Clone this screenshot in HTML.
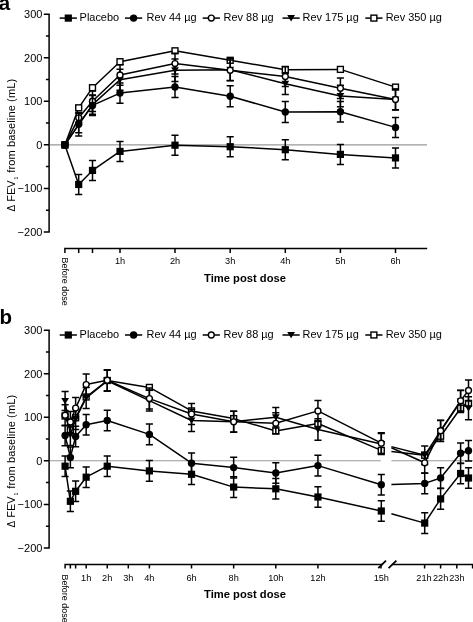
<!DOCTYPE html>
<html><head><meta charset="utf-8"><title>Figure</title>
<style>html,body{margin:0;padding:0;background:#fff}svg{display:block}text{font-family:"Liberation Sans", sans-serif;fill:#000}</style>
</head><body>
<svg width="473" height="622" viewBox="0 0 473 622">
<rect width="473" height="622" fill="#fff"/>
<text x="-1.3" y="10.1" font-size="20.5" font-weight="bold">a</text>
<path d="M49.1 13.45V232.70M49.1 231.95h-5.3M49.1 210.17h-3.2M49.1 188.40h-5.3M49.1 166.62h-3.2M49.1 144.85h-5.3M49.1 123.08h-3.2M49.1 101.30h-5.3M49.1 79.53h-3.2M49.1 57.75h-5.3M49.1 35.97h-3.2M49.1 14.20h-5.3" fill="none" stroke="#000" stroke-width="1.5"/>
<text x="42.4" y="235.85" font-size="11" text-anchor="end">−200</text>
<text x="42.4" y="192.30" font-size="11" text-anchor="end">−100</text>
<text x="42.4" y="148.75" font-size="11" text-anchor="end">0</text>
<text x="42.4" y="105.20" font-size="11" text-anchor="end">100</text>
<text x="42.4" y="61.65" font-size="11" text-anchor="end">200</text>
<text x="42.4" y="18.10" font-size="11" text-anchor="end">300</text>
<g transform="translate(15.2 0) rotate(-90)"><text x="-211.6" y="0" font-size="10">Δ</text><text x="-201.7" y="0" font-size="11">FEV</text><text x="-179.4" y="2.4" font-size="5.2">1</text><text x="-172.8" y="0" font-size="11" textLength="93.9" lengthAdjust="spacing">from baseline (mL)</text></g>
<path d="M59.70 18.10h17.2" stroke="#000" stroke-width="1.5"/>
<rect x="64.70" y="14.50" width="7.2" height="7.2" fill="#000"/>
<text x="79.60" y="20.80" font-size="10.95">Placebo</text>
<path d="M125.00 18.10h17.2" stroke="#000" stroke-width="1.5"/>
<circle cx="133.60" cy="18.10" r="3.7" fill="#000"/>
<text x="146.50" y="20.80" font-size="10.95">Rev 44 µg</text>
<path d="M202.70 18.10h17.2" stroke="#000" stroke-width="1.5"/>
<circle cx="211.30" cy="18.10" r="2.95" fill="#fff" stroke="#000" stroke-width="1.4"/>
<text x="223.60" y="20.80" font-size="10.95">Rev 88 µg</text>
<path d="M282.50 18.10h17.2" stroke="#000" stroke-width="1.5"/>
<path d="M287.20 15.10H295.00L291.10 21.40Z" fill="#000"/>
<text x="302.60" y="20.80" font-size="10.95">Rev 175 µg</text>
<path d="M365.30 18.10h17.2" stroke="#000" stroke-width="1.5"/>
<rect x="370.95" y="15.15" width="5.9" height="5.9" fill="#fff" stroke="#000" stroke-width="1.4"/>
<text x="385.70" y="20.80" font-size="10.95">Rev 350 µg</text>
<path d="M49.8 144.85H427" stroke="#999" stroke-width="1.2"/>
<polyline points="64.90,144.90 78.70,107.80 92.50,87.70 120.00,61.70 175.00,50.80 230.20,60.30 285.30,69.70 340.40,69.40 395.50,87.10" fill="none" stroke="#000" stroke-width="1.5" stroke-linejoin="round"/>
<rect x="61.95" y="141.95" width="5.9" height="5.9" fill="#fff" stroke="#000" stroke-width="1.4"/>
<rect x="75.75" y="104.85" width="5.9" height="5.9" fill="#fff" stroke="#000" stroke-width="1.4"/>
<rect x="89.55" y="84.75" width="5.9" height="5.9" fill="#fff" stroke="#000" stroke-width="1.4"/>
<rect x="117.05" y="58.75" width="5.9" height="5.9" fill="#fff" stroke="#000" stroke-width="1.4"/>
<rect x="172.05" y="47.85" width="5.9" height="5.9" fill="#fff" stroke="#000" stroke-width="1.4"/>
<rect x="227.25" y="57.35" width="5.9" height="5.9" fill="#fff" stroke="#000" stroke-width="1.4"/>
<rect x="282.35" y="66.75" width="5.9" height="5.9" fill="#fff" stroke="#000" stroke-width="1.4"/>
<rect x="337.45" y="66.45" width="5.9" height="5.9" fill="#fff" stroke="#000" stroke-width="1.4"/>
<rect x="392.55" y="84.15" width="5.9" height="5.9" fill="#fff" stroke="#000" stroke-width="1.4"/>
<path d="M78.70 116.70V132.70M75.15 116.70h7.1M75.15 132.70h7.1M92.50 95.00V114.20M88.95 95.00h7.1M88.95 114.20h7.1M120.00 69.20V90.20M116.45 69.20h7.1M116.45 90.20h7.1M175.00 58.90V81.50M171.45 58.90h7.1M171.45 81.50h7.1M230.20 58.70V80.70M226.65 58.70h7.1M226.65 80.70h7.1M285.30 73.20V94.40M281.75 73.20h7.1M281.75 94.40h7.1M340.40 85.20V106.80M336.85 85.20h7.1M336.85 106.80h7.1M395.50 88.90V110.10M391.95 88.90h7.1M391.95 110.10h7.1" fill="none" stroke="#000" stroke-width="1.5"/>
<polyline points="64.90,144.90 78.70,124.70 92.50,104.60 120.00,79.70 175.00,70.20 230.20,69.70 285.30,83.80 340.40,96.00 395.50,99.50" fill="none" stroke="#000" stroke-width="1.5" stroke-linejoin="round"/>
<path d="M61.00 141.90H68.80L64.90 148.20Z" fill="#000"/>
<path d="M74.80 121.70H82.60L78.70 128.00Z" fill="#000"/>
<path d="M88.60 101.60H96.40L92.50 107.90Z" fill="#000"/>
<path d="M116.10 76.70H123.90L120.00 83.00Z" fill="#000"/>
<path d="M171.10 67.20H178.90L175.00 73.50Z" fill="#000"/>
<path d="M226.30 66.70H234.10L230.20 73.00Z" fill="#000"/>
<path d="M281.40 80.80H289.20L285.30 87.10Z" fill="#000"/>
<path d="M336.50 93.00H344.30L340.40 99.30Z" fill="#000"/>
<path d="M391.60 96.50H399.40L395.50 102.80Z" fill="#000"/>
<path d="M78.70 113.20V122.40M75.15 113.20h7.1M75.15 122.40h7.1M92.50 91.00V111.40M88.95 91.00h7.1M88.95 111.40h7.1M120.00 64.70V85.30M116.45 64.70h7.1M116.45 85.30h7.1M175.00 53.30V73.90M171.45 53.30h7.1M171.45 73.90h7.1M230.20 60.00V80.60M226.65 60.00h7.1M226.65 80.60h7.1M285.30 66.40V86.40M281.75 66.40h7.1M281.75 86.40h7.1M340.40 78.00V98.60M336.85 78.00h7.1M336.85 98.60h7.1M395.50 89.20V109.80M391.95 89.20h7.1M391.95 109.80h7.1" fill="none" stroke="#000" stroke-width="1.5"/>
<polyline points="64.90,144.90 78.70,117.80 92.50,101.20 120.00,75.00 175.00,63.60 230.20,70.30 285.30,76.40 340.40,88.30 395.50,99.50" fill="none" stroke="#000" stroke-width="1.5" stroke-linejoin="round"/>
<circle cx="64.90" cy="144.90" r="2.95" fill="#fff" stroke="#000" stroke-width="1.4"/>
<circle cx="78.70" cy="117.80" r="2.95" fill="#fff" stroke="#000" stroke-width="1.4"/>
<circle cx="92.50" cy="101.20" r="2.95" fill="#fff" stroke="#000" stroke-width="1.4"/>
<circle cx="120.00" cy="75.00" r="2.95" fill="#fff" stroke="#000" stroke-width="1.4"/>
<circle cx="175.00" cy="63.60" r="2.95" fill="#fff" stroke="#000" stroke-width="1.4"/>
<circle cx="230.20" cy="70.30" r="2.95" fill="#fff" stroke="#000" stroke-width="1.4"/>
<circle cx="285.30" cy="76.40" r="2.95" fill="#fff" stroke="#000" stroke-width="1.4"/>
<circle cx="340.40" cy="88.30" r="2.95" fill="#fff" stroke="#000" stroke-width="1.4"/>
<circle cx="395.50" cy="99.50" r="2.95" fill="#fff" stroke="#000" stroke-width="1.4"/>
<path d="M78.70 112.60V136.00M75.15 112.60h7.1M75.15 136.00h7.1M92.50 95.40V115.40M88.95 95.40h7.1M88.95 115.40h7.1M120.00 83.00V103.20M116.45 83.00h7.1M116.45 103.20h7.1M175.00 76.50V97.50M171.45 76.50h7.1M171.45 97.50h7.1M230.20 85.70V106.70M226.65 85.70h7.1M226.65 106.70h7.1M285.30 101.60V122.40M281.75 101.60h7.1M281.75 122.40h7.1M340.40 101.40V122.00M336.85 101.40h7.1M336.85 122.00h7.1M395.50 117.40V137.40M391.95 117.40h7.1M391.95 137.40h7.1" fill="none" stroke="#000" stroke-width="1.5"/>
<polyline points="64.90,144.90 78.70,124.30 92.50,105.40 120.00,93.10 175.00,87.00 230.20,96.20 285.30,112.00 340.40,111.70 395.50,127.40" fill="none" stroke="#000" stroke-width="1.5" stroke-linejoin="round"/>
<circle cx="64.90" cy="144.90" r="3.7" fill="#000"/>
<circle cx="78.70" cy="124.30" r="3.7" fill="#000"/>
<circle cx="92.50" cy="105.40" r="3.7" fill="#000"/>
<circle cx="120.00" cy="93.10" r="3.7" fill="#000"/>
<circle cx="175.00" cy="87.00" r="3.7" fill="#000"/>
<circle cx="230.20" cy="96.20" r="3.7" fill="#000"/>
<circle cx="285.30" cy="112.00" r="3.7" fill="#000"/>
<circle cx="340.40" cy="111.70" r="3.7" fill="#000"/>
<circle cx="395.50" cy="127.40" r="3.7" fill="#000"/>
<path d="M78.70 174.50V194.50M75.15 174.50h7.1M75.15 194.50h7.1M92.50 160.40V180.40M88.95 160.40h7.1M88.95 180.40h7.1M120.00 141.40V161.40M116.45 141.40h7.1M116.45 161.40h7.1M175.00 135.20V155.20M171.45 135.20h7.1M171.45 155.20h7.1M230.20 136.70V156.70M226.65 136.70h7.1M226.65 156.70h7.1M285.30 139.70V159.70M281.75 139.70h7.1M281.75 159.70h7.1M340.40 144.40V164.40M336.85 144.40h7.1M336.85 164.40h7.1M395.50 147.90V167.90M391.95 147.90h7.1M391.95 167.90h7.1" fill="none" stroke="#000" stroke-width="1.5"/>
<polyline points="64.90,144.90 78.70,184.50 92.50,170.40 120.00,151.40 175.00,145.20 230.20,146.70 285.30,149.70 340.40,154.40 395.50,157.90" fill="none" stroke="#000" stroke-width="1.5" stroke-linejoin="round"/>
<rect x="61.30" y="141.30" width="7.2" height="7.2" fill="#000"/>
<rect x="75.10" y="180.90" width="7.2" height="7.2" fill="#000"/>
<rect x="88.90" y="166.80" width="7.2" height="7.2" fill="#000"/>
<rect x="116.40" y="147.80" width="7.2" height="7.2" fill="#000"/>
<rect x="171.40" y="141.60" width="7.2" height="7.2" fill="#000"/>
<rect x="226.60" y="143.10" width="7.2" height="7.2" fill="#000"/>
<rect x="281.70" y="146.10" width="7.2" height="7.2" fill="#000"/>
<rect x="336.80" y="150.80" width="7.2" height="7.2" fill="#000"/>
<rect x="391.90" y="154.30" width="7.2" height="7.2" fill="#000"/>
<path d="M64.15 248.55H427.2M64.90 248.55v4.4M78.70 248.55v4.4M92.50 248.55v4.4M120.00 248.55v4.4M175.00 248.55v4.4M230.20 248.55v4.4M285.30 248.55v4.4M340.40 248.55v4.4M395.50 248.55v4.4" fill="none" stroke="#000" stroke-width="1.5"/>
<text x="120.00" y="264.0" font-size="9.2" text-anchor="middle">1h</text>
<text x="175.00" y="264.0" font-size="9.2" text-anchor="middle">2h</text>
<text x="230.20" y="264.0" font-size="9.2" text-anchor="middle">3h</text>
<text x="285.30" y="264.0" font-size="9.2" text-anchor="middle">4h</text>
<text x="340.40" y="264.0" font-size="9.2" text-anchor="middle">5h</text>
<text x="395.50" y="264.0" font-size="9.2" text-anchor="middle">6h</text>
<text transform="translate(62.4 257.4) rotate(90)" font-size="9.4" textLength="48.4" lengthAdjust="spacingAndGlyphs">Before dose</text>
<text x="245.0" y="282.2" font-size="11.2" font-weight="bold" text-anchor="middle">Time post dose</text>
<text x="-0.5" y="323.8" font-size="20.5" font-weight="bold">b</text>
<path d="M49.1 329.45V548.70M49.1 547.95h-5.3M49.1 526.17h-3.2M49.1 504.40h-5.3M49.1 482.62h-3.2M49.1 460.85h-5.3M49.1 439.07h-3.2M49.1 417.30h-5.3M49.1 395.52h-3.2M49.1 373.75h-5.3M49.1 351.97h-3.2M49.1 330.20h-5.3" fill="none" stroke="#000" stroke-width="1.5"/>
<text x="42.4" y="551.85" font-size="11" text-anchor="end">−200</text>
<text x="42.4" y="508.30" font-size="11" text-anchor="end">−100</text>
<text x="42.4" y="464.75" font-size="11" text-anchor="end">0</text>
<text x="42.4" y="421.20" font-size="11" text-anchor="end">100</text>
<text x="42.4" y="377.65" font-size="11" text-anchor="end">200</text>
<text x="42.4" y="334.10" font-size="11" text-anchor="end">300</text>
<g transform="translate(15.2 316) rotate(-90)"><text x="-211.6" y="0" font-size="10">Δ</text><text x="-201.7" y="0" font-size="11">FEV</text><text x="-179.4" y="2.4" font-size="5.2">1</text><text x="-172.8" y="0" font-size="11" textLength="93.9" lengthAdjust="spacing">from baseline (mL)</text></g>
<path d="M59.70 335.00h17.2" stroke="#000" stroke-width="1.5"/>
<rect x="64.70" y="331.40" width="7.2" height="7.2" fill="#000"/>
<text x="79.60" y="337.70" font-size="10.95">Placebo</text>
<path d="M125.00 335.00h17.2" stroke="#000" stroke-width="1.5"/>
<circle cx="133.60" cy="335.00" r="3.7" fill="#000"/>
<text x="146.50" y="337.70" font-size="10.95">Rev 44 µg</text>
<path d="M202.70 335.00h17.2" stroke="#000" stroke-width="1.5"/>
<circle cx="211.30" cy="335.00" r="2.95" fill="#fff" stroke="#000" stroke-width="1.4"/>
<text x="223.60" y="337.70" font-size="10.95">Rev 88 µg</text>
<path d="M282.50 335.00h17.2" stroke="#000" stroke-width="1.5"/>
<path d="M287.20 332.00H295.00L291.10 338.30Z" fill="#000"/>
<text x="302.60" y="337.70" font-size="10.95">Rev 175 µg</text>
<path d="M365.30 335.00h17.2" stroke="#000" stroke-width="1.5"/>
<rect x="370.95" y="332.05" width="5.9" height="5.9" fill="#fff" stroke="#000" stroke-width="1.4"/>
<text x="385.70" y="337.70" font-size="10.95">Rev 350 µg</text>
<path d="M49.8 460.75H380.8M391.4 460.75H473" stroke="#999" stroke-width="1.2"/>
<polyline points="65.10,416.00 70.37,430.00 75.63,417.80 86.17,397.00 107.24,380.50 149.38,387.40 191.52,410.90 233.66,418.60 275.80,431.00 317.94,423.50 381.30,450.40" fill="none" stroke="#000" stroke-width="1.5" stroke-linejoin="round"/>
<polyline points="391.40,451.54 424.70,455.30 440.60,436.20 460.60,408.20 468.50,403.40" fill="none" stroke="#000" stroke-width="1.5" stroke-linejoin="round"/>
<rect x="62.15" y="413.05" width="5.9" height="5.9" fill="#fff" stroke="#000" stroke-width="1.4"/>
<rect x="67.42" y="427.05" width="5.9" height="5.9" fill="#fff" stroke="#000" stroke-width="1.4"/>
<rect x="72.68" y="414.85" width="5.9" height="5.9" fill="#fff" stroke="#000" stroke-width="1.4"/>
<rect x="83.22" y="394.05" width="5.9" height="5.9" fill="#fff" stroke="#000" stroke-width="1.4"/>
<rect x="104.29" y="377.55" width="5.9" height="5.9" fill="#fff" stroke="#000" stroke-width="1.4"/>
<rect x="146.43" y="384.45" width="5.9" height="5.9" fill="#fff" stroke="#000" stroke-width="1.4"/>
<rect x="188.57" y="407.95" width="5.9" height="5.9" fill="#fff" stroke="#000" stroke-width="1.4"/>
<rect x="230.71" y="415.65" width="5.9" height="5.9" fill="#fff" stroke="#000" stroke-width="1.4"/>
<rect x="272.85" y="428.05" width="5.9" height="5.9" fill="#fff" stroke="#000" stroke-width="1.4"/>
<rect x="314.99" y="420.55" width="5.9" height="5.9" fill="#fff" stroke="#000" stroke-width="1.4"/>
<rect x="378.35" y="447.45" width="5.9" height="5.9" fill="#fff" stroke="#000" stroke-width="1.4"/>
<rect x="421.75" y="452.35" width="5.9" height="5.9" fill="#fff" stroke="#000" stroke-width="1.4"/>
<rect x="437.65" y="433.25" width="5.9" height="5.9" fill="#fff" stroke="#000" stroke-width="1.4"/>
<rect x="457.65" y="405.25" width="5.9" height="5.9" fill="#fff" stroke="#000" stroke-width="1.4"/>
<rect x="465.55" y="400.45" width="5.9" height="5.9" fill="#fff" stroke="#000" stroke-width="1.4"/>
<path d="M65.10 391.40V410.60M61.55 391.40h7.1M61.55 410.60h7.1M70.37 424.50V445.50M66.82 424.50h7.1M66.82 445.50h7.1M75.63 408.50V429.50M72.08 408.50h7.1M72.08 429.50h7.1M86.17 387.50V408.50M82.62 387.50h7.1M82.62 408.50h7.1M107.24 370.30V391.30M103.69 370.30h7.1M103.69 391.30h7.1M149.38 390.10V411.10M145.83 390.10h7.1M145.83 411.10h7.1M191.52 409.50V431.50M187.97 409.50h7.1M187.97 431.50h7.1M233.66 411.30V432.10M230.11 411.30h7.1M230.11 432.10h7.1M275.80 407.50V426.90M272.25 407.50h7.1M272.25 426.90h7.1M317.94 418.70V440.30M314.39 418.70h7.1M314.39 440.30h7.1M381.30 433.50V454.50M377.75 433.50h7.1M377.75 454.50h7.1M424.70 446.00V464.60M421.15 446.00h7.1M421.15 464.60h7.1M440.60 420.50V441.50M437.05 420.50h7.1M437.05 441.50h7.1M460.60 390.50V412.50M457.05 390.50h7.1M457.05 412.50h7.1M468.50 396.70V419.70M464.95 396.70h7.1M464.95 419.70h7.1" fill="none" stroke="#000" stroke-width="1.5"/>
<polyline points="65.10,401.00 70.37,435.00 75.63,419.00 86.17,398.00 107.24,380.80 149.38,400.60 191.52,420.50 233.66,421.70 275.80,417.20 317.94,429.50 381.30,444.00" fill="none" stroke="#000" stroke-width="1.5" stroke-linejoin="round"/>
<polyline points="391.40,446.63 424.70,455.30 440.60,431.00 460.60,401.50 468.50,408.20" fill="none" stroke="#000" stroke-width="1.5" stroke-linejoin="round"/>
<path d="M61.20 398.00H69.00L65.10 404.30Z" fill="#000"/>
<path d="M66.47 432.00H74.27L70.37 438.30Z" fill="#000"/>
<path d="M71.73 416.00H79.53L75.63 422.30Z" fill="#000"/>
<path d="M82.27 395.00H90.07L86.17 401.30Z" fill="#000"/>
<path d="M103.34 377.80H111.14L107.24 384.10Z" fill="#000"/>
<path d="M145.48 397.60H153.28L149.38 403.90Z" fill="#000"/>
<path d="M187.62 417.50H195.42L191.52 423.80Z" fill="#000"/>
<path d="M229.76 418.70H237.56L233.66 425.00Z" fill="#000"/>
<path d="M271.90 414.20H279.70L275.80 420.50Z" fill="#000"/>
<path d="M314.04 426.50H321.84L317.94 432.80Z" fill="#000"/>
<path d="M377.40 441.00H385.20L381.30 447.30Z" fill="#000"/>
<path d="M420.80 452.30H428.60L424.70 458.60Z" fill="#000"/>
<path d="M436.70 428.00H444.50L440.60 434.30Z" fill="#000"/>
<path d="M456.70 398.50H464.50L460.60 404.80Z" fill="#000"/>
<path d="M464.60 405.20H472.40L468.50 411.50Z" fill="#000"/>
<path d="M65.10 404.70V425.70M61.55 404.70h7.1M61.55 425.70h7.1M70.37 411.40V432.40M66.82 411.40h7.1M66.82 432.40h7.1M75.63 397.60V418.60M72.08 397.60h7.1M72.08 418.60h7.1M86.17 374.10V395.10M82.62 374.10h7.1M82.62 395.10h7.1M107.24 369.70V390.70M103.69 369.70h7.1M103.69 390.70h7.1M149.38 388.10V409.10M145.83 388.10h7.1M145.83 409.10h7.1M191.52 403.50V424.50M187.97 403.50h7.1M187.97 424.50h7.1M233.66 411.30V432.30M230.11 411.30h7.1M230.11 432.30h7.1M275.80 412.80V433.80M272.25 412.80h7.1M272.25 433.80h7.1M317.94 400.40V421.40M314.39 400.40h7.1M314.39 421.40h7.1M381.30 432.70V453.70M377.75 432.70h7.1M377.75 453.70h7.1M424.70 452.30V473.30M421.15 452.30h7.1M421.15 473.30h7.1M440.60 420.20V441.20M437.05 420.20h7.1M437.05 441.20h7.1M460.60 390.30V411.30M457.05 390.30h7.1M457.05 411.30h7.1M468.50 380.00V401.00M464.95 380.00h7.1M464.95 401.00h7.1" fill="none" stroke="#000" stroke-width="1.5"/>
<polyline points="65.10,415.20 70.37,421.90 75.63,408.10 86.17,384.60 107.24,380.20 149.38,398.60 191.52,414.00 233.66,421.80 275.80,423.30 317.94,410.90 381.30,443.20" fill="none" stroke="#000" stroke-width="1.5" stroke-linejoin="round"/>
<polyline points="391.40,447.76 424.70,462.80 440.60,430.70 460.60,400.80 468.50,390.50" fill="none" stroke="#000" stroke-width="1.5" stroke-linejoin="round"/>
<circle cx="65.10" cy="415.20" r="2.95" fill="#fff" stroke="#000" stroke-width="1.4"/>
<circle cx="70.37" cy="421.90" r="2.95" fill="#fff" stroke="#000" stroke-width="1.4"/>
<circle cx="75.63" cy="408.10" r="2.95" fill="#fff" stroke="#000" stroke-width="1.4"/>
<circle cx="86.17" cy="384.60" r="2.95" fill="#fff" stroke="#000" stroke-width="1.4"/>
<circle cx="107.24" cy="380.20" r="2.95" fill="#fff" stroke="#000" stroke-width="1.4"/>
<circle cx="149.38" cy="398.60" r="2.95" fill="#fff" stroke="#000" stroke-width="1.4"/>
<circle cx="191.52" cy="414.00" r="2.95" fill="#fff" stroke="#000" stroke-width="1.4"/>
<circle cx="233.66" cy="421.80" r="2.95" fill="#fff" stroke="#000" stroke-width="1.4"/>
<circle cx="275.80" cy="423.30" r="2.95" fill="#fff" stroke="#000" stroke-width="1.4"/>
<circle cx="317.94" cy="410.90" r="2.95" fill="#fff" stroke="#000" stroke-width="1.4"/>
<circle cx="381.30" cy="443.20" r="2.95" fill="#fff" stroke="#000" stroke-width="1.4"/>
<circle cx="424.70" cy="462.80" r="2.95" fill="#fff" stroke="#000" stroke-width="1.4"/>
<circle cx="440.60" cy="430.70" r="2.95" fill="#fff" stroke="#000" stroke-width="1.4"/>
<circle cx="460.60" cy="400.80" r="2.95" fill="#fff" stroke="#000" stroke-width="1.4"/>
<circle cx="468.50" cy="390.50" r="2.95" fill="#fff" stroke="#000" stroke-width="1.4"/>
<path d="M65.10 425.20V445.80M61.55 425.20h7.1M61.55 445.80h7.1M70.37 447.10V467.70M66.82 447.10h7.1M66.82 467.70h7.1M75.63 426.20V446.80M72.08 426.20h7.1M72.08 446.80h7.1M86.17 414.40V435.00M82.62 414.40h7.1M82.62 435.00h7.1M107.24 410.20V430.80M103.69 410.20h7.1M103.69 430.80h7.1M149.38 424.10V444.70M145.83 424.10h7.1M145.83 444.70h7.1M191.52 452.90V473.50M187.97 452.90h7.1M187.97 473.50h7.1M233.66 457.30V477.90M230.11 457.30h7.1M230.11 477.90h7.1M275.80 462.70V483.30M272.25 462.70h7.1M272.25 483.30h7.1M317.94 455.30V475.90M314.39 455.30h7.1M314.39 475.90h7.1M381.30 474.50V495.10M377.75 474.50h7.1M377.75 495.10h7.1M424.70 473.10V493.70M421.15 473.10h7.1M421.15 493.70h7.1M440.60 467.70V488.30M437.05 467.70h7.1M437.05 488.30h7.1M460.60 442.90V463.50M457.05 442.90h7.1M457.05 463.50h7.1M468.50 440.40V461.00M464.95 440.40h7.1M464.95 461.00h7.1" fill="none" stroke="#000" stroke-width="1.5"/>
<polyline points="65.10,435.50 70.37,457.40 75.63,436.50 86.17,424.70 107.24,420.50 149.38,434.40 191.52,463.20 233.66,467.60 275.80,473.00 317.94,465.60 381.30,484.80" fill="none" stroke="#000" stroke-width="1.5" stroke-linejoin="round"/>
<polyline points="391.40,484.47 424.70,483.40 440.60,478.00 460.60,453.20 468.50,450.70" fill="none" stroke="#000" stroke-width="1.5" stroke-linejoin="round"/>
<circle cx="65.10" cy="435.50" r="3.7" fill="#000"/>
<circle cx="70.37" cy="457.40" r="3.7" fill="#000"/>
<circle cx="75.63" cy="436.50" r="3.7" fill="#000"/>
<circle cx="86.17" cy="424.70" r="3.7" fill="#000"/>
<circle cx="107.24" cy="420.50" r="3.7" fill="#000"/>
<circle cx="149.38" cy="434.40" r="3.7" fill="#000"/>
<circle cx="191.52" cy="463.20" r="3.7" fill="#000"/>
<circle cx="233.66" cy="467.60" r="3.7" fill="#000"/>
<circle cx="275.80" cy="473.00" r="3.7" fill="#000"/>
<circle cx="317.94" cy="465.60" r="3.7" fill="#000"/>
<circle cx="381.30" cy="484.80" r="3.7" fill="#000"/>
<circle cx="424.70" cy="483.40" r="3.7" fill="#000"/>
<circle cx="440.60" cy="478.00" r="3.7" fill="#000"/>
<circle cx="460.60" cy="453.20" r="3.7" fill="#000"/>
<circle cx="468.50" cy="450.70" r="3.7" fill="#000"/>
<path d="M65.10 455.90V476.50M61.55 455.90h7.1M61.55 476.50h7.1M70.37 491.00V511.60M66.82 491.00h7.1M66.82 511.60h7.1M75.63 481.00V501.60M72.08 481.00h7.1M72.08 501.60h7.1M86.17 466.90V487.50M82.62 466.90h7.1M82.62 487.50h7.1M107.24 455.90V476.50M103.69 455.90h7.1M103.69 476.50h7.1M149.38 460.60V481.20M145.83 460.60h7.1M145.83 481.20h7.1M191.52 464.00V484.60M187.97 464.00h7.1M187.97 484.60h7.1M233.66 476.80V497.40M230.11 476.80h7.1M230.11 497.40h7.1M275.80 478.50V499.10M272.25 478.50h7.1M272.25 499.10h7.1M317.94 486.70V507.30M314.39 486.70h7.1M314.39 507.30h7.1M381.30 500.70V521.30M377.75 500.70h7.1M377.75 521.30h7.1M424.70 512.80V533.40M421.15 512.80h7.1M421.15 533.40h7.1M440.60 488.60V509.20M437.05 488.60h7.1M437.05 509.20h7.1M460.60 463.20V483.80M457.05 463.20h7.1M457.05 483.80h7.1M468.50 467.70V488.30M464.95 467.70h7.1M464.95 488.30h7.1" fill="none" stroke="#000" stroke-width="1.5"/>
<polyline points="65.10,466.20 70.37,501.30 75.63,491.30 86.17,477.20 107.24,466.20 149.38,470.90 191.52,474.30 233.66,487.10 275.80,488.80 317.94,497.00 381.30,511.00" fill="none" stroke="#000" stroke-width="1.5" stroke-linejoin="round"/>
<polyline points="391.40,513.82 424.70,523.10 440.60,498.90 460.60,473.50 468.50,478.00" fill="none" stroke="#000" stroke-width="1.5" stroke-linejoin="round"/>
<rect x="61.50" y="462.60" width="7.2" height="7.2" fill="#000"/>
<rect x="66.77" y="497.70" width="7.2" height="7.2" fill="#000"/>
<rect x="72.03" y="487.70" width="7.2" height="7.2" fill="#000"/>
<rect x="82.57" y="473.60" width="7.2" height="7.2" fill="#000"/>
<rect x="103.64" y="462.60" width="7.2" height="7.2" fill="#000"/>
<rect x="145.78" y="467.30" width="7.2" height="7.2" fill="#000"/>
<rect x="187.92" y="470.70" width="7.2" height="7.2" fill="#000"/>
<rect x="230.06" y="483.50" width="7.2" height="7.2" fill="#000"/>
<rect x="272.20" y="485.20" width="7.2" height="7.2" fill="#000"/>
<rect x="314.34" y="493.40" width="7.2" height="7.2" fill="#000"/>
<rect x="377.70" y="507.40" width="7.2" height="7.2" fill="#000"/>
<rect x="421.10" y="519.50" width="7.2" height="7.2" fill="#000"/>
<rect x="437.00" y="495.30" width="7.2" height="7.2" fill="#000"/>
<rect x="457.00" y="469.90" width="7.2" height="7.2" fill="#000"/>
<rect x="464.90" y="474.40" width="7.2" height="7.2" fill="#000"/>
<path d="M64.35 564.4H382.9M391.8 564.4H473M65.10 564.4v4.2M70.37 564.4v4.2M75.63 564.4v4.2M86.17 564.4v4.2M107.24 564.4v4.2M128.31 564.4v4.2M149.38 564.4v4.2M191.52 564.4v4.2M233.66 564.4v4.2M275.80 564.4v4.2M317.94 564.4v4.2M381.00 564.4v4.2M424.60 564.4v4.2M440.60 564.4v4.2M456.80 564.4v4.2M472.60 564.4v4.2" fill="none" stroke="#000" stroke-width="1.5"/>
<path d="M378.3 568.2L386.0 560.6M388.6 568.2L396.4 560.6" fill="none" stroke="#000" stroke-width="1.8"/>
<text x="86.17" y="580.7" font-size="9.2" text-anchor="middle">1h</text>
<text x="107.24" y="580.7" font-size="9.2" text-anchor="middle">2h</text>
<text x="128.31" y="580.7" font-size="9.2" text-anchor="middle">3h</text>
<text x="149.38" y="580.7" font-size="9.2" text-anchor="middle">4h</text>
<text x="191.52" y="580.7" font-size="9.2" text-anchor="middle">6h</text>
<text x="233.66" y="580.7" font-size="9.2" text-anchor="middle">8h</text>
<text x="275.80" y="580.7" font-size="9.2" text-anchor="middle">10h</text>
<text x="317.94" y="580.7" font-size="9.2" text-anchor="middle">12h</text>
<text x="381.30" y="580.7" font-size="9.2" text-anchor="middle">15h</text>
<text x="424.00" y="580.7" font-size="9.2" text-anchor="middle">21h</text>
<text x="440.60" y="580.7" font-size="9.2" text-anchor="middle">22h</text>
<text x="456.90" y="580.7" font-size="9.2" text-anchor="middle">23h</text>
<text transform="translate(62.4 574.4) rotate(90)" font-size="9.4" textLength="48.4" lengthAdjust="spacingAndGlyphs">Before dose</text>
<text x="245.0" y="598.0" font-size="11.2" font-weight="bold" text-anchor="middle">Time post dose</text>
</svg>
</body></html>
